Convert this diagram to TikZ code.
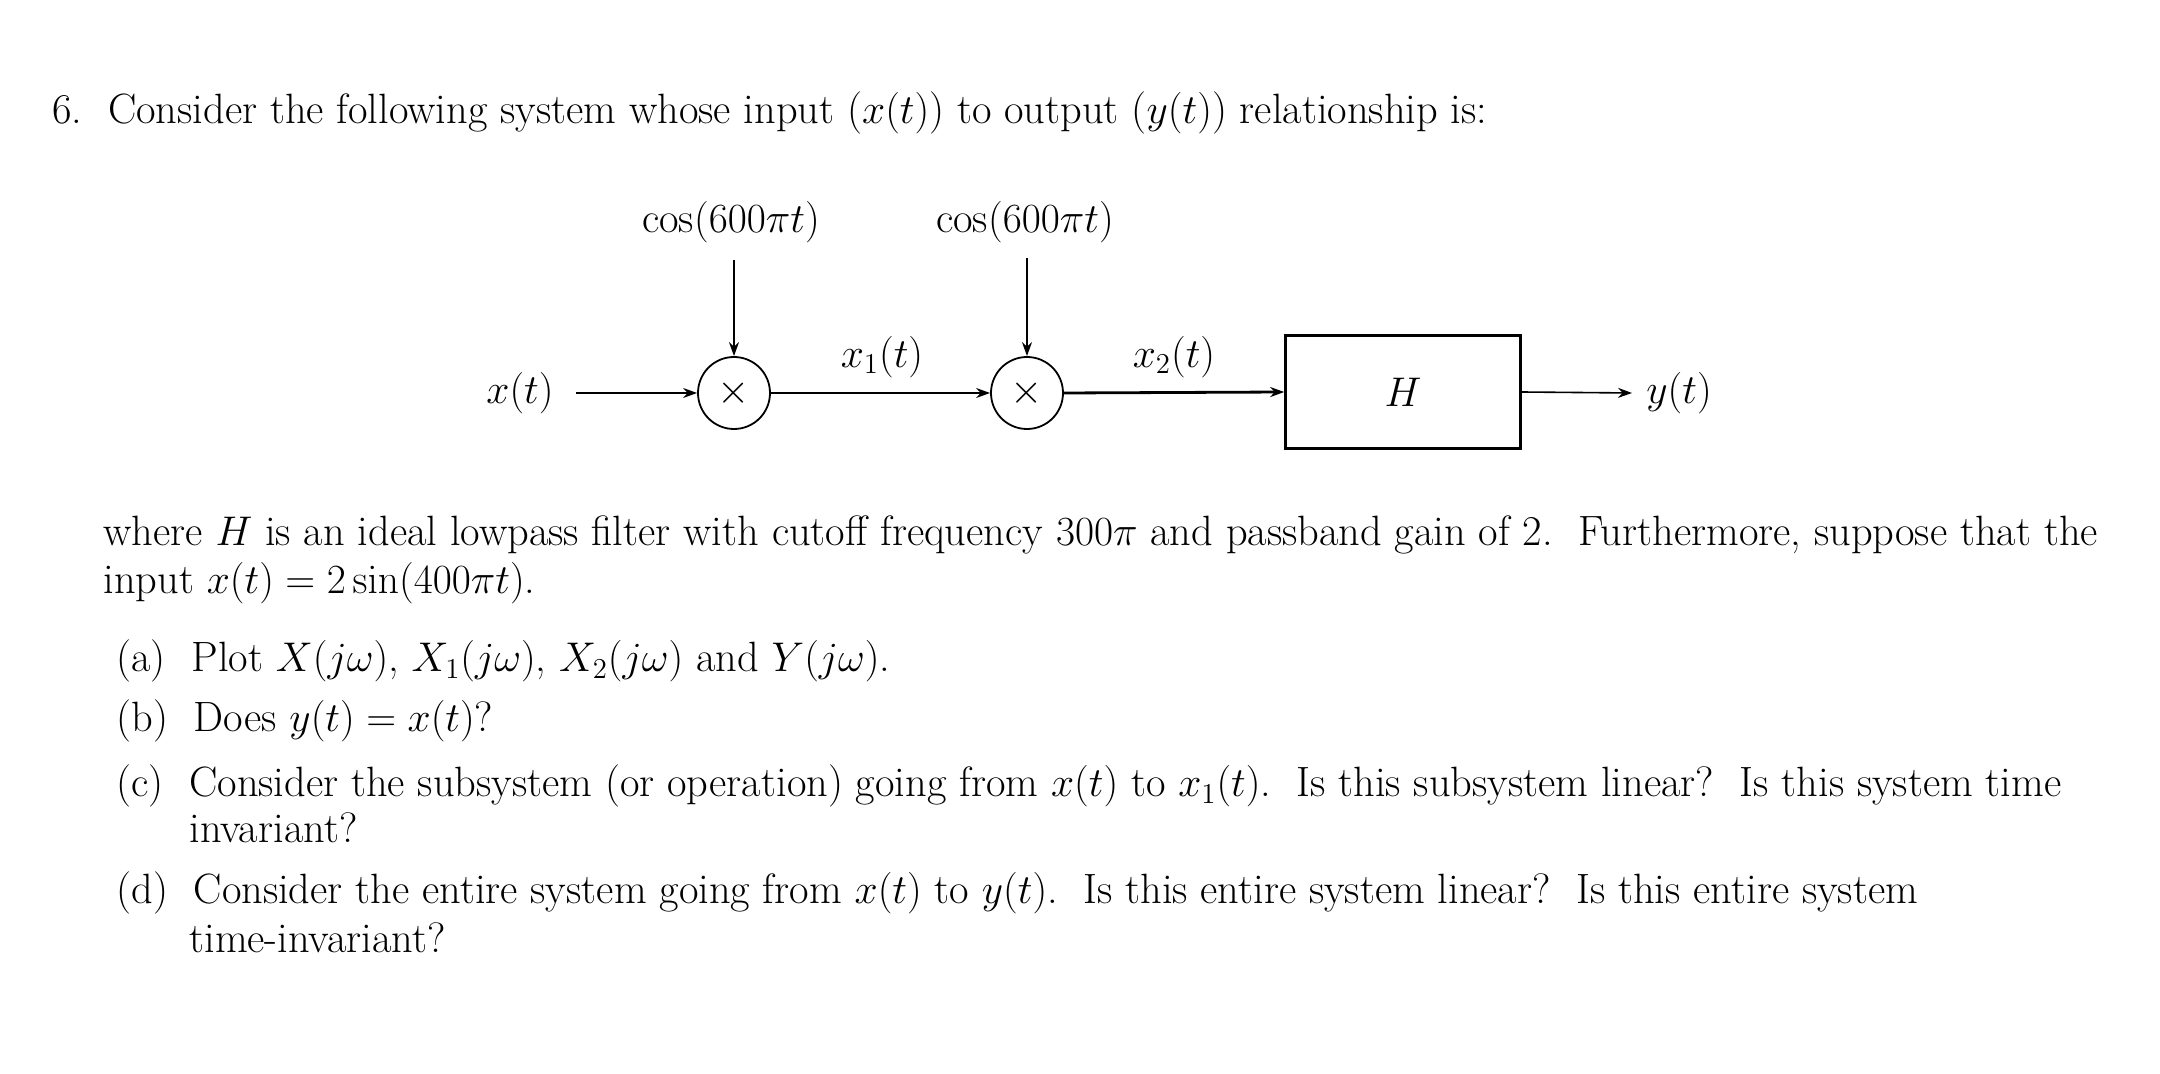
\documentclass[tikz,border=0pt]{standalone}
\usetikzlibrary{arrows.meta}
\begin{document}
\begin{tikzpicture}[x=0.5pt,y=-0.5pt,
  txt/.style={anchor=base west,inner sep=0pt,font=\fontsize{21.2}{26}\selectfont},
  lbl/.style={inner sep=0pt,font=\fontsize{21.2}{26}\selectfont},
  mult/.style={circle,draw,line width=0.9pt,minimum size=36pt,inner sep=0pt,font=\fontsize{21.2}{26}\selectfont},
  arr/.style={-{Stealth[length=7pt,width=5pt]},line width=0.8pt}]
\useasboundingbox (0,0) rectangle (2160,1074);
\node[txt] (t0) at (52,124) {6.\ \ Consider the following system whose input ($x(t)$) to output ($y(t)$) relationship is:};
\node[lbl] (c1) at (731,222) {cos$(600\pi t)$};
\node[lbl] (c2) at (1025,222) {cos$(600\pi t)$};
\node[lbl] (x) at (520,393) {$x(t)$};
\node[mult] (m1) at (734,393) {$\times$};
\node[mult] (m2) at (1027,393) {$\times$};
\node[draw,line width=1.3pt,minimum width=117.5pt,minimum height=56.5pt,inner sep=0pt,font=\fontsize{21.2}{26}\selectfont] (H) at (1403,392) {$H$};
\node[lbl,anchor=west,inner xsep=7pt] (y) at (1632,393) {$y(t)$};
\node[lbl] (x1) at (882,357) {$x_1(t)$};
\node[lbl] (x2) at (1174,357) {$x_2(t)$};
\coordinate (a1) at (734,260);
\coordinate (a2) at (1027,258);
\draw[arr] (x.east)++(22,0) -- (m1.west);
\draw[arr] (a1) -- (m1.north);
\draw[arr] (a2) -- (m2.north);
\draw[arr] (m1.east) -- (m2.west);
\draw[arr,line width=1.4pt] (m2.east) -- (H.west);
\draw[arr] (H.east) -- (y.west);
\node[txt] (p1) at (103,546) {where $H$ is an ideal lowpass filter with cutoff frequency $300\pi$ and passband gain of 2.\ \ Furthermore, suppose that the};
\node[txt] (p2) at (103,594) {input $x(t)=2\sin(400\pi t)$.};
\node[txt] (qa) at (116,672) {(a)\ \ Plot $X(j\omega)$, $X_1(j\omega)$, $X_2(j\omega)$ and $Y(j\omega)$.};
\node[txt] (qb) at (116,732) {(b)\ \ Does $y(t)=x(t)$?};
\node[txt] (qc) at (116,797) {(c)\ \ Consider the subsystem (or operation) going from $x(t)$ to $x_1(t)$.\ \ Is this subsystem linear?\ \ Is this system time};
\node[txt] (qc2) at (189,843) {invariant?};
\node[txt] (qd) at (116,904) {(d)\ \ Consider the entire system going from $x(t)$ to $y(t)$.\ \ Is this entire system linear?\ \ Is this entire system};
\node[txt] (qd2) at (189,952) {time-invariant?};
\end{tikzpicture}
\end{document}
